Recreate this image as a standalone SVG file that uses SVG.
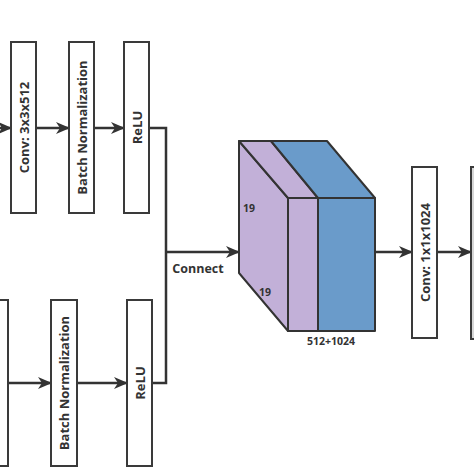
<svg xmlns="http://www.w3.org/2000/svg" width="474" height="474" viewBox="0 0 474 474">
<defs>
<marker id="ah" markerWidth="14" markerHeight="12" refX="13" refY="6" orient="auto" markerUnits="userSpaceOnUse">
<path d="M0,0 L14,6 L0,12 L4,6 Z" fill="#333"/>
</marker>
<style>
.box{fill:#fff;stroke:#3a3a3a;stroke-width:2}
.gbox{fill:#d6d6d6;stroke:#3a3a3a;stroke-width:2}
.lbl{font-family:"Open Sans","Liberation Sans",sans-serif;font-size:13px;font-weight:bold;fill:#333;text-anchor:middle;dominant-baseline:central}
.edge{fill:none;stroke:#333;stroke-width:2.5}
.arr{fill:none;stroke:#333;stroke-width:2.5;marker-end:url(#ah)}
.face{stroke:#333;stroke-width:2;stroke-linejoin:round}
.small{font-family:"Open Sans","Liberation Sans",sans-serif;font-size:10.5px;font-weight:bold;fill:#333}
</style>
</defs>
<rect width="474" height="474" fill="#fff"/>
<g id="connectors">
<path class="arr" d="M-5,128 L11,128"/>
<path class="arr" d="M36,128 L69,128"/>
<path class="arr" d="M94,128 L124,128"/>
<path class="edge" d="M149,128 L166,128 L166,383 L152,383"/>
<path class="arr" d="M8,383 L51,383"/>
<path class="arr" d="M77,383 L127,383"/>
<path class="arr" d="M166,252 L239,252"/>
<path class="arr" d="M375,252 L412,252"/>
<path class="arr" d="M437,252 L471,252"/>
</g>
<g id="conv1">
<rect class="box" x="11" y="42" width="25" height="171"/>
<text class="lbl" transform="translate(24,127.5) rotate(-90)">Conv: 3x3x512</text>
</g>
<g id="bn1">
<rect class="box" x="69" y="42" width="25" height="171"/>
<text class="lbl" transform="translate(82,127.5) rotate(-90)">Batch Normalization</text>
</g>
<g id="relu1">
<rect class="box" x="124" y="42" width="25" height="171"/>
<text class="lbl" transform="translate(137,127.5) rotate(-90)">ReLU</text>
</g>
<g id="conv2">
<rect class="box" x="-20" y="300" width="28" height="166"/>
</g>
<g id="bn2">
<rect class="box" x="51" y="300" width="26" height="166"/>
<text class="lbl" transform="translate(64,383) rotate(-90)">Batch Normalization</text>
</g>
<g id="relu2">
<rect class="box" x="127" y="300" width="25" height="166"/>
<text class="lbl" transform="translate(140,383) rotate(-90)">ReLU</text>
</g>
<text class="lbl" x="198" y="268" style="font-size:12.5px">Connect</text>
<g id="cube">
<polygon class="face" fill="#c2b0d8" points="239,141 288,198 288,331 239,273"/>
<polygon class="face" fill="#c2b0d8" points="239,141 271,141 318,198 288,198"/>
<polygon class="face" fill="#6a9bca" points="271,141 327,141 375,198 318,198"/>
<rect class="face" fill="#c2b0d8" x="288" y="198" width="30" height="133"/>
<rect class="face" fill="#6a9bca" x="318" y="198" width="57" height="133"/>
<text class="small" x="243" y="212">19</text>
<text class="small" x="259" y="296">19</text>
<text class="small" x="331" y="345" text-anchor="middle">512+1024</text>
</g>
<g id="conv3">
<rect class="box" x="412" y="167" width="25" height="171"/>
<text class="lbl" transform="translate(425,252.5) rotate(-90)">Conv: 1x1x1024</text>
</g>
<g id="next">
<rect class="gbox" x="471" y="167" width="25" height="172"/>
</g>
</svg>
